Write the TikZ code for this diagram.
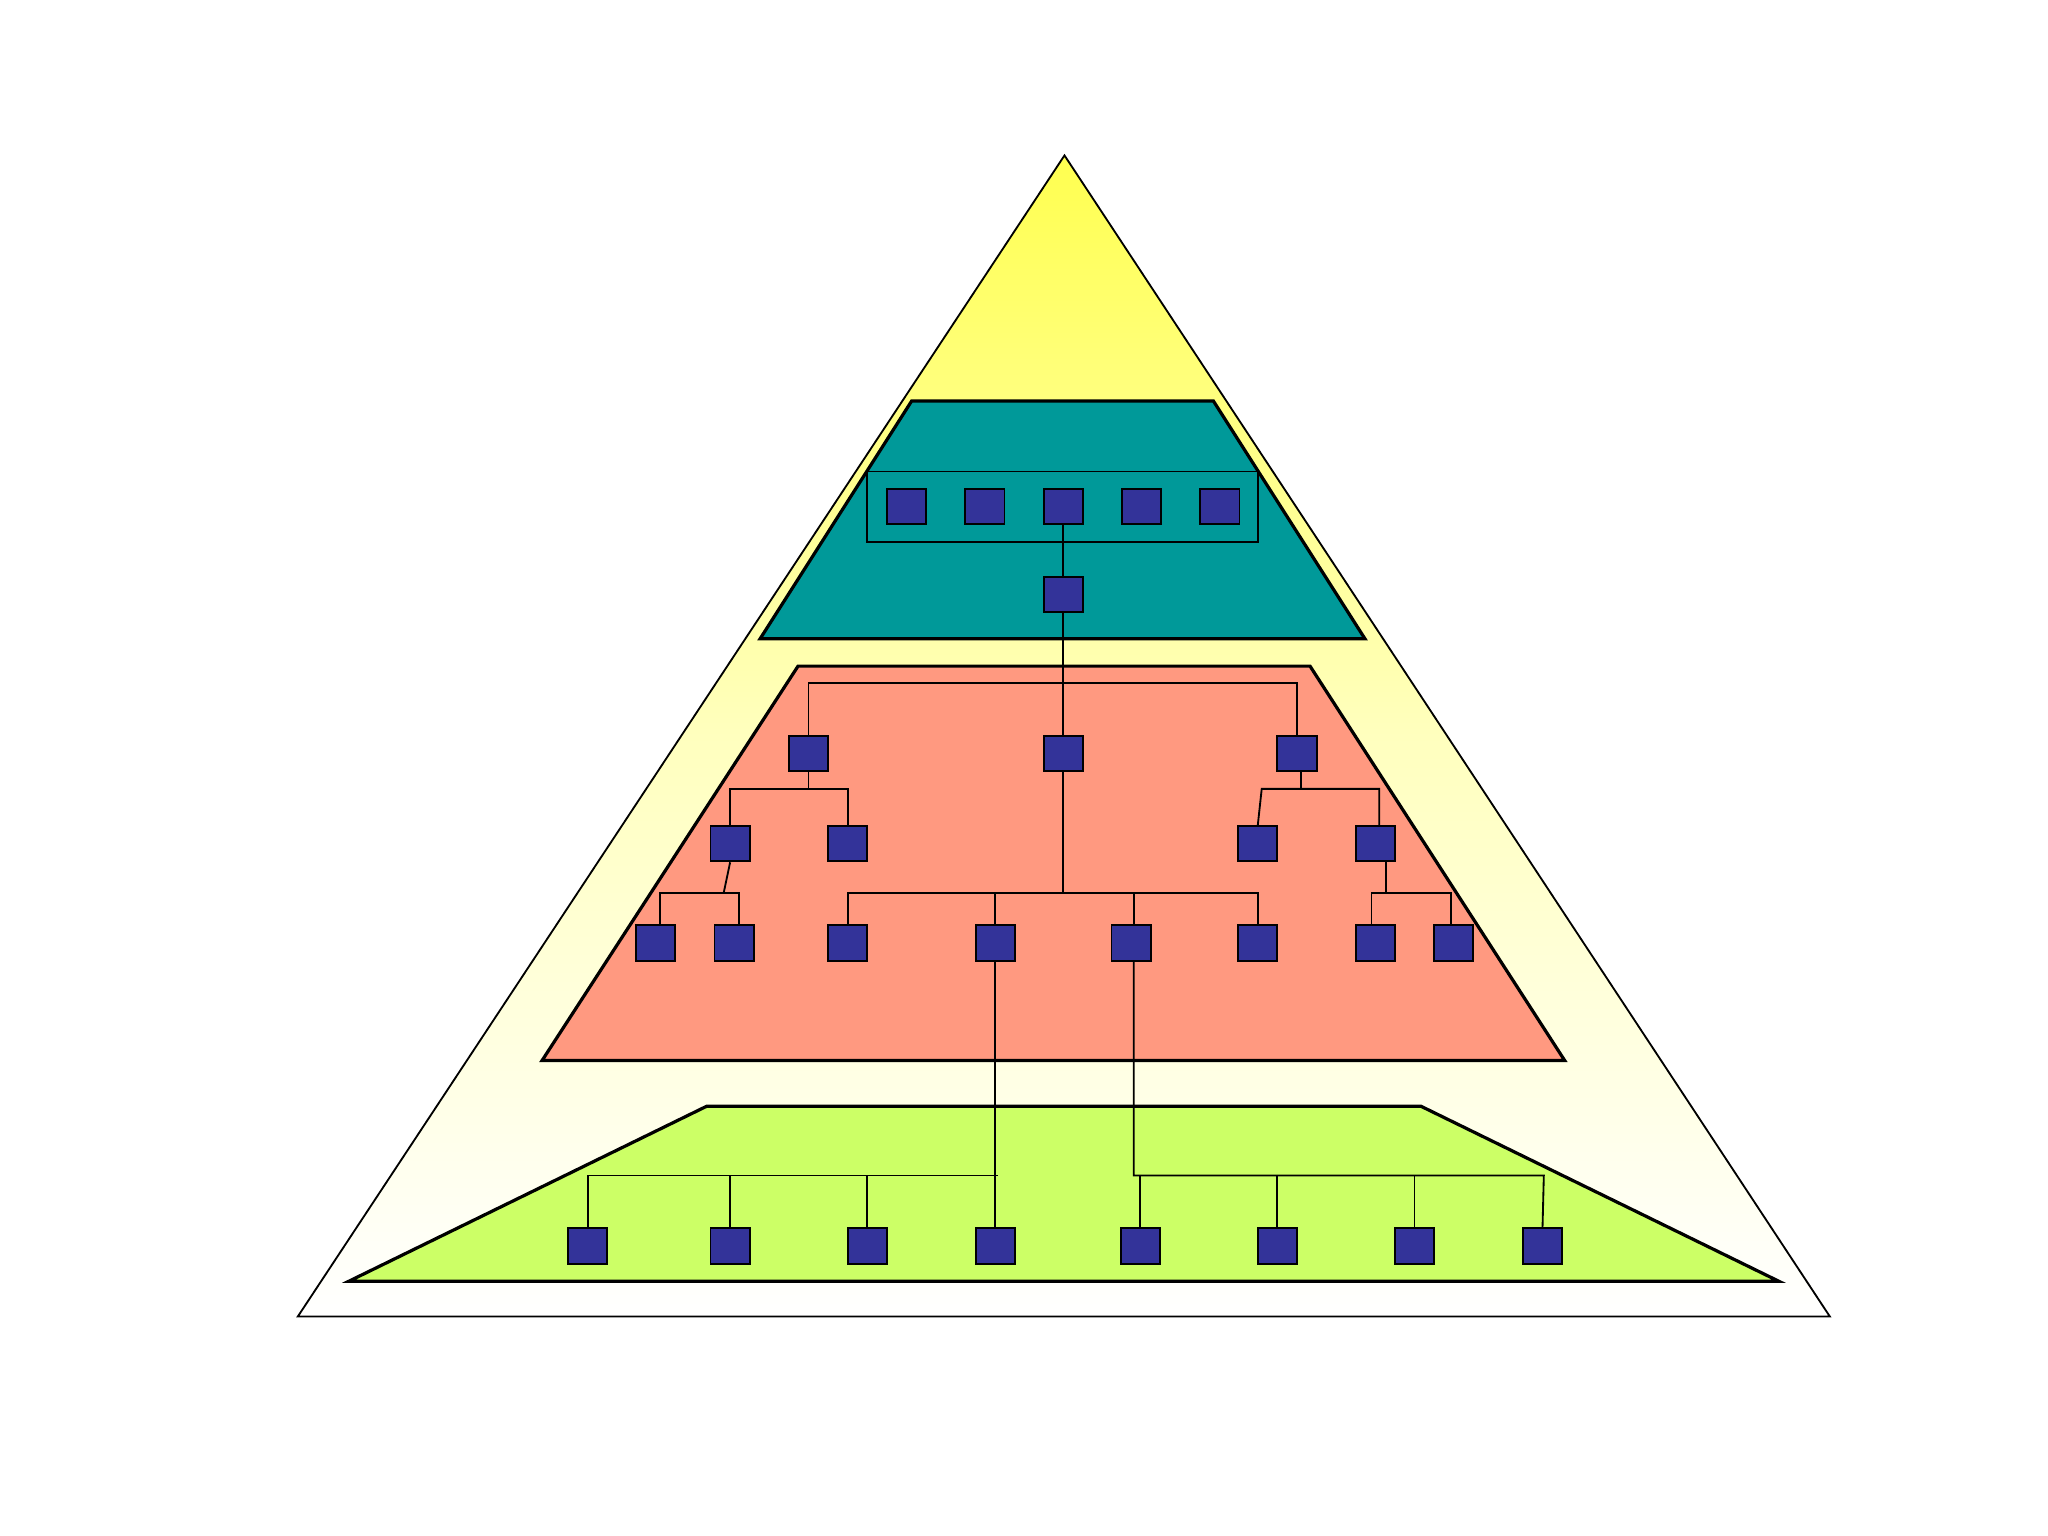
\documentclass[tikz,border=0pt]{standalone}
\begin{document}
\begin{tikzpicture}[x=0.01cm,y=-0.01cm,
  bx/.style={draw=black,fill=blue!45!black!80!blue,minimum width=0.3cm,minimum height=0.27cm,inner sep=0pt,line width=0.4pt},
  ln/.style={line width=0.4pt},
  tz/.style={draw=black,line width=0.7pt}]
\colorlet{bxc}{blue!60!black}
\tikzset{bx/.append style={fill={rgb,255:red,51;green,51;blue,153}}}
\useasboundingbox (0,0) rectangle (1568,1176);
\shade[top color={rgb,255:red,255;green,255;blue,80},bottom color=white,middle color={rgb,255:red,255;green,255;blue,190}] (815,119) -- (1401,1008) -- (228,1008) -- cycle;
\draw[ln] (815,119) -- (1401,1008) -- (228,1008) -- cycle;
\draw[tz,fill={rgb,255:red,0;green,153;blue,153}] (698,307) -- (929,307) -- (1045,489) -- (582,489) -- cycle;
\draw[tz,fill={rgb,255:red,255;green,153;blue,128}] (611,510) -- (1003,510) -- (1198,812) -- (415,812) -- cycle;
\draw[tz,fill={rgb,255:red,204;green,255;blue,102}] (541,847) -- (1088,847) -- (1362,981) -- (267,981) -- cycle;
\draw[ln] (664,361) rectangle (963,415);
\foreach \n/\x in {t1/694,t2/754,t3/814,t4/874,t5/934} \node[bx] (\n) at (\x,388) {};
\node[bx] (c) at (814,455) {};
\node[bx] (a1) at (619,577) {};
\node[bx] (a2) at (814,577) {};
\node[bx] (a3) at (993,577) {};
\node[bx] (b1) at (559,646) {};
\node[bx] (b2) at (649,646) {};
\node[bx] (b3) at (963,646) {};
\node[bx] (b4) at (1053,646) {};
\foreach \n/\x in {d1/502,d2/562,d3/649,d4/762,d5/866,d6/963,d7/1053,d8/1113} \node[bx] (\n) at (\x,722) {};
\foreach \n/\x in {e1/450,e2/559,e3/664,e4/762,e5/873,e6/978,e7/1083,e8/1181} \node[bx] (\n) at (\x,954) {};
\draw[ln] (t3.south) -- (c.north);
\draw[ln] (c.south) -- (a2.north);
\draw[ln] (a2.south) -- (814,684);
\draw[ln] (a1.north) -- (619,523) -- (993,523) -- (a3.north);
\draw[ln] (a1.south) -- (619,604);
\draw[ln] (b1.north) -- (559,604) -- (649,604) -- (b2.north);
\draw[ln] (996,590) -- (996,604);
\draw[ln] (b3.north) -- (966,604) -- (1056,604) -- (1056,632);
\draw[ln] (b1.south) -- (554,684);
\draw[ln] (505,709) -- (505,684) -- (566,684) -- (566,709);
\draw[ln] (1061,660) -- (1061,684);
\draw[ln] (1050,709) -- (1050,684) -- (1111,684) -- (1111,709);
\draw[ln] (d3.north) -- (649,684) -- (963,684) -- (d6.north);
\draw[ln] (d4.north) -- (762,684);
\draw[ln] (868,709) -- (868,684);
\draw[ln] (d4.south) -- (762,900);
\draw[ln] (e1.north) -- (450,900) -- (764,900);
\draw[ln] (e2.north) -- (559,900); \draw[ln] (e3.north) -- (664,900); \draw[ln] (e4.north) -- (762,900);
\draw[ln] (868,736) -- (868,900) -- (1182,900) -- (e8.north);
\draw[ln] (873,941) -- (873,900); \draw[ln] (e6.north) -- (978,900); \draw[ln] (e7.north) -- (1083,900);
\end{tikzpicture}
\end{document}
